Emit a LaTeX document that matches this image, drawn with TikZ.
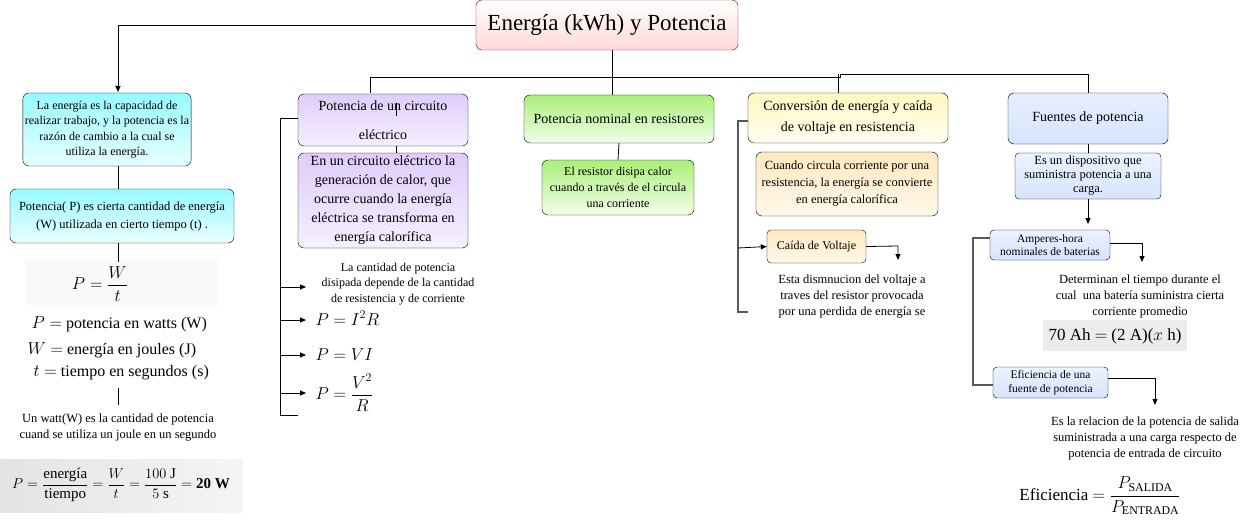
\documentclass[tikz,border=0pt]{standalone}
\usepackage{amsmath}
\usepackage{fontspec}
\setmainfont{Liberation Serif}
\usetikzlibrary{arrows.meta}
\definecolor{lav}{RGB}{222,205,250}
\definecolor{lavl}{RGB}{245,240,255}
\definecolor{cy}{RGB}{150,250,255}
\definecolor{gn}{RGB}{170,240,120}
\definecolor{yl}{RGB}{255,248,190}
\definecolor{org}{RGB}{255,232,190}
\definecolor{bl}{RGB}{215,228,255}
\begin{document}
\begin{tikzpicture}[x=1pt,y=-1pt,
 box/.style={draw,rounded corners=6pt,align=center,inner sep=2pt,font=\fontsize{12.5}{15}\selectfont},
 txt/.style={align=center,font=\fontsize{12.5}{16}\selectfont},
 ln/.style={draw,line width=0.8pt},
 ar/.style={ln,-{Triangle[length=6pt,width=5pt]}},
 gr/.style={draw=gray!70!black,line width=1.2pt}]
\useasboundingbox (0,0) rectangle (1260,532);
% title
\node[box,top color=white,bottom color=red!15,draw=red!50!black,minimum width=262pt,minimum height=50pt,font=\fontsize{23}{26}\selectfont] (t) at (607,25) {Energía (kWh) y Potencia};
% left column
\node[box,top color=cy,bottom color=cy!20,minimum width=154pt,minimum height=73pt,font=\fontsize{12}{15.5}\selectfont] (b1) at (107,129.5) {La energía es la capacidad de\\realizar trabajo, y la potencia es la\\razón de cambio a la cual se\\utiliza la energía.};
\node[box,top color=cy,bottom color=cy!20,minimum width=224pt,minimum height=54pt,font=\fontsize{12.5}{18}\selectfont] (b2) at (122,216) {Potencia( P) es cierta cantidad de energía\\(W) utilizada en cierto tiempo (t) .};
\draw[ar] (t.west) -| (118,92) coordinate (b1t);
\draw[ln] (118,166) coordinate (a1) -- (118,189) coordinate (a2);
\fill[gray!5] (25,260) rectangle (218,305);
\draw[ln] (118,243) coordinate (a3) -- (118,262) coordinate (a4);
\node[font=\fontsize{16}{18}\selectfont] (f1) at (100,284) {$P=\dfrac{W}{t}$};
\node[anchor=west,font=\fontsize{16}{18}\selectfont] (f2) at (28,324) {$P=$ potencia en watts (W)};
\node[anchor=west,font=\fontsize{16}{18}\selectfont] (f3) at (24,350) {$W=$ energía en joules (J)};
\node[anchor=west,font=\fontsize{16}{18}\selectfont] (f4) at (30,373) {$t=$ tiempo en segundos (s)};
\draw[ln] (118,388) coordinate (a5) -- (118,405) coordinate (a6);
\node[txt] (w) at (118,428) {Un watt(W) es la cantidad de potencia\\cuand se utiliza un joule en un segundo};
\fill[left color=gray!22,right color=gray!8] (0,459) rectangle (243,512);
\node[font=\fontsize{15}{17}\selectfont] (f5) at (121,485) {$P=\dfrac{\text{energía}}{\text{tiempo}}=\dfrac{W}{t}=\dfrac{100\text{ J}}{5\text{ s}}=\textbf{20 W}$};
% top connectors
\draw[ln] (370,93) -- (370,77) -- (840,77) -- (840,74) -- (1088,74) -- (1088,93);
\draw[ln] (612,50) -- (612,95);
\draw[ln] (838,74) -- (838,93);
% circuit column
\node[box,top color=lav,bottom color=lavl,minimum width=170pt,minimum height=52pt,font=\fontsize{14}{29}\selectfont] (c1) at (383,120) {Potencia de un circuito\\eléctrico};
\draw[ln] (396,103) -- (396,116);
\draw[ln] (396,146) -- (396,153);
\node[box,top color=lav,bottom color=lavl,minimum width=170pt,minimum height=95pt,font=\fontsize{14}{19}\selectfont] (c2) at (383,200.5) {En un circuito eléctrico la\\generación de calor, que\\ocurre cuando la energía\\eléctrica se transforma en\\energía calorífica};
\draw[ln] (c1.west |- 0,118) -- (280,118) -- (280,415) -- (298,415);
\draw[ar] (280,287) -- (306,287);
\draw[ar] (280,320) -- (306,320);
\draw[ar] (280,355) -- (306,355);
\draw[ar] (280,393) -- (306,393);
\node[txt,font=\fontsize{12}{15.5}\selectfont] (c3) at (398,284) {La cantidad de potencia\\disipada depende de la cantidad\\de resistencia y de corriente};
\node[anchor=west,font=\fontsize{18}{20}\selectfont] (e1) at (312,318) {$P=I^2R$};
\node[anchor=west,font=\fontsize{18}{20}\selectfont] (e2) at (312,355) {$P=VI$};
\node[anchor=west,font=\fontsize{18}{20}\selectfont] (e3) at (312,393) {$P=\dfrac{V^2}{R}$};
% nominal
\node[box,top color=gn,bottom color=gn!15,minimum width=190pt,minimum height=48pt,font=\fontsize{14}{16}\selectfont] (n1) at (619,119) {Potencia nominal en resistores};
\node[box,top color=gn,bottom color=gn!15,minimum width=152pt,minimum height=55pt,font=\fontsize{12}{16}\selectfont] (n2) at (618,187.5) {El resistor disipa calor\\cuando a través de el circula\\una corriente};
\draw[ln] (n1.south) -- (n2.north);
% conversion
\node[box,top color=yl,bottom color=yl!20,minimum width=200pt,minimum height=50pt,font=\fontsize{14}{21}\selectfont] (v1) at (848,118) {Conversión de energía y caída\\de voltaje en resistencia};
\node[box,top color=org,bottom color=org!30,minimum width=182pt,minimum height=64pt,font=\fontsize{12.5}{17}\selectfont] (v2) at (847,184) {Cuando circula corriente por una\\resistencia, la energía se convierte\\en energía calorífica};
\node[box,top color=org,bottom color=org!30,minimum width=99pt,minimum height=33pt,rounded corners=4pt,font=\fontsize{12}{15}\selectfont] (v3) at (816.5,246.5) {Caída de Voltaje};
\draw[gr] (748,121) -- (738,121) -- (738,312) -- (748,312);
\draw[ar] (738,248) -- (v3.west);
\draw[ar] (v3.east) -- (898,246) -- (898,260);
\node[txt] (v4) at (852,297) {Esta dismnucion del voltaje a\\traves del resistor provocada\\por una perdida de energía se};
% fuentes
\node[box,top color=bl!60,bottom color=bl,minimum width=160pt,minimum height=51pt,font=\fontsize{14}{16}\selectfont] (s1) at (1088,118.5) {Fuentes de potencia};
\node[box,top color=bl!50,bottom color=bl,minimum width=146pt,minimum height=46pt,rounded corners=4pt,font=\fontsize{12.5}{14}\selectfont] (s2) at (1088,176) {Es un dispositivo que\\suministra potencia a una\\carga.};
\draw[ln] (s1.south) -- (s2.north);
\node[box,top color=bl!50,bottom color=bl,minimum width=120pt,minimum height=30pt,rounded corners=4pt,font=\fontsize{11.5}{13.5}\selectfont] (s3) at (1050,245) {Amperes-hora\\nominales de baterias};
\draw[ar] (s2.south) -- (1088,224);
\draw[gr] (990,238) -- (973,238) -- (973,385) -- (993,385);
\draw[ar] (s3.east |- 0,243) -- (1142,243) -- (1142,262);
\node[txt] (s4) at (1140,296) {Determinan el tiempo durante el\\cual\ \ una batería suministra cierta\\corriente promedio};
\fill[gray!15] (1043,320) rectangle (1187,351);
\node[font=\fontsize{17}{19}\selectfont] (s5) at (1115,336) {70 Ah $=$ (2 A)($x$ h)};
\node[box,top color=bl!50,bottom color=bl,minimum width=115pt,minimum height=31pt,rounded corners=4pt,font=\fontsize{11.5}{13.5}\selectfont] (s6) at (1050.5,382.5) {Eficiencia de una\\fuente de potencia};
\draw[ar] (s6.east |- 0,378) -- (1155,378) -- (1155,405);
\node[txt] (s7) at (1145,438) {Es la relacion de la potencia de salida\\suministrada a una carga respecto de\\potencia de entrada de circuito};
\node[font=\fontsize{17}{19}\selectfont] (s8) at (1100,496) {Eficiencia $=\dfrac{P_{\text{SALIDA}}}{P_{\text{ENTRADA}}}$};
\end{tikzpicture}
\end{document}
